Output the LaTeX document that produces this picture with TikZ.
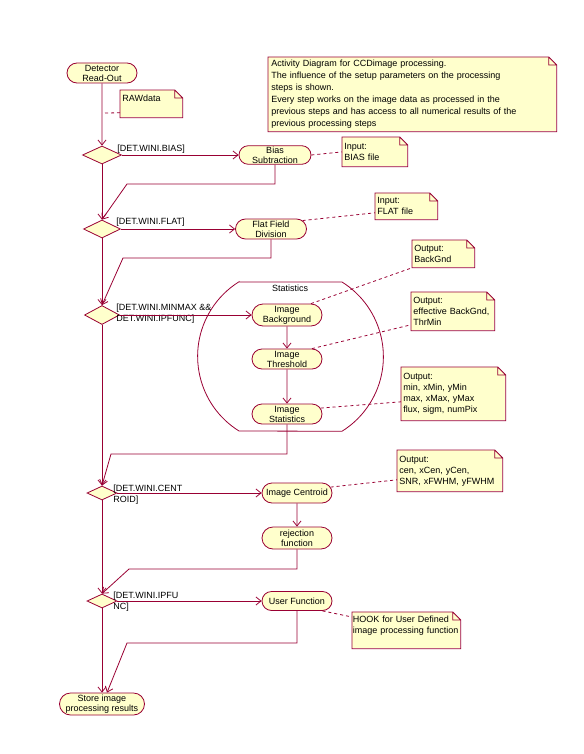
\documentclass[tikz,border=0pt]{standalone}
\usepackage{fontspec}
\setmainfont{Liberation Sans}
\usetikzlibrary{arrows.meta, shapes.geometric, shapes.misc}
\definecolor{umlline}{HTML}{990033}
\definecolor{umlfill}{HTML}{FFFFCC}
\newcommand{\dogear}[1]{%
  \fill[white] ([xshift=-8pt]#1.north east) -- (#1.north east) -- ([yshift=-8pt]#1.north east) -- cycle;
  \draw[umlline] (#1.north west) -- ([xshift=-8pt]#1.north east) -- ([yshift=-8pt]#1.north east)
    -- (#1.south east) -- (#1.south west) -- cycle
    ([xshift=-8pt]#1.north east) |- ([yshift=-8pt]#1.north east);}

\begin{document}
\begin{tikzpicture}[x=1pt, y=-1pt, line width=0.8pt,
font=\fontsize{9}{11}\selectfont,
activity/.style={rounded rectangle, draw=umlline, fill=umlfill, minimum width=72pt, minimum height=20pt, inner sep=1pt, align=center, font=\fontsize{9}{10}\selectfont},
branch/.style={diamond, draw=umlline, fill=umlfill, inner sep=0pt, minimum width=37pt, minimum height=18pt},
note/.style={rectangle, fill=umlfill, anchor=north west, inner xsep=2pt, inner ysep=2pt, align=left},
guard/.style={anchor=north west, inner sep=0pt, align=left},
flow/.style={umlline, -{Straight Barb[length=5pt, width=8pt]}},
link/.style={umlline, dash pattern=on 3pt off 3pt}
]
\useasboundingbox (0,0) rectangle (583,754);

% statistics partition
\draw[umlline] (239,282) -- (342,282) arc[start angle=-58, end angle=58, radius=88]
  -- (239,431) arc[start angle=122, end angle=238, radius=88] -- cycle;
\node (statlabel) at (290,288) {Statistics};

% main flow
\node (readout) [activity] at (102,73) {Detector\\Read-Out};
\node (b1) [branch, minimum width=39pt] at (102,155) {};
\node (bias) [activity, minimum width=74pt, minimum height=18pt] at (275,155) {Bias\\Subtraction};
\node (b2) [branch] at (102,229) {};
\node (flat) [activity, minimum width=73pt] at (271,229) {Flat Field\\Division};
\node (b3) [branch, minimum width=35pt, minimum height=19pt] at (102,315) {};
\node (bkg) [activity, minimum height=22pt] at (287,315) {Image\\Background};
\node (thr) [activity] at (287,359) {Image\\Threshold};
\node (stat) [activity] at (287,414) {Image\\Statistics};
\node (b4) [branch, minimum width=30pt, minimum height=14pt] at (102,493) {};
\node (centroid) [activity] at (297,493) {Image Centroid};
\node (reject) [activity, minimum height=22pt] at (297,538) {rejection\\function};
\node (b5) [branch, minimum width=30pt, minimum height=14pt] at (102,601) {};
\node (userfn) [activity, minimum height=19pt] at (297,601) {User Function};
\node (store) [activity, minimum width=87pt, minimum height=22pt] at (102,704) {Store image\\processing results};

% guards
\node (g1) [guard] at (117,145) {[DET.WINI.BIAS]};
\node (g2) [guard] at (116,218) {[DET.WINI.FLAT]};
\node (g3) [guard] at (116,304) {[DET.WINI.MINMAX \&\&\\DET.WINI.IPFUNC]};
\node (g4) [guard] at (113,485) {[DET.WINI.CENT\\ROID]};
\node (g5) [guard] at (113,592) {[DET.WINI.IPFU\\NC]};

% notes
\node (title) [note, inner xsep=3pt, text width=282pt, minimum height=74pt, font=\fontsize{9}{12}\selectfont] at (268,57)
  {Activity Diagram for CCDimage processing.\\The influence of the setup parameters on the processing\\steps is shown.\\Every step works on the image data as processed in the\\previous steps and has access to all numerical results of the\\previous processing steps};
\node (rawnote) [note, text width=58pt, minimum height=27pt] at (120,90) {RAWdata\\~};
\node (biasnote) [note, text width=61pt, minimum height=29pt] at (342,137) {Input:\\BIAS file};
\node (flatnote) [note, text width=58pt, minimum height=26pt] at (375,193) {Input:\\FLAT file};
\node (bkgnote) [note, text width=58pt, minimum height=27pt] at (412,240) {Output:\\BackGnd};
\node (thrnote) [note, text width=79pt, minimum height=38pt] at (411,292) {Output:\\effective BackGnd,\\ThrMin};
\node (statnote) [note, text width=100pt, minimum height=53pt] at (401,367) {Output:\\min, xMin, yMin\\max, xMax, yMax\\flux, sigm, numPix};
\node (centnote) [note, text width=101pt, minimum height=41pt] at (397,450) {Output:\\cen, xCen, yCen,\\SNR, xFWHM, yFWHM};
\node (hooknote) [note, inner xsep=0.5pt, text width=107pt, minimum height=36pt] at (352,612) {HOOK for User Defined\\image processing function\\~};
\foreach \n in {title, rawnote, biasnote, flatnote, bkgnote, thrnote, statnote, centnote, hooknote}
  {\dogear{\n}}

% connectors
\coordinate (j1) at (127,184);
\coordinate (j2) at (123,258);
\coordinate (j3) at (111,454);
\coordinate (j4) at (129,569);
\coordinate (j5) at (127,643);
\coordinate (rawend) at (104,113);

\draw[flow] (readout) -- (b1);
\draw[flow] (b1) -- (bias);
\draw[flow] (b1) -- (b2);
\draw[flow] (bias) -- (bias |- j1) -- (j1) -- (b2.north);
\draw[flow] (b2) -- (flat);
\draw[flow] (b2) -- (b3);
\draw[flow] (flat) -- (flat |- j2) -- (j2) -- (b3.north);
\draw[flow] (b3) -- (bkg);
\draw[flow] (bkg) -- (thr);
\draw[flow] (thr) -- (stat);
\draw[flow] (b3) -- (b4);
\draw[flow] (stat) -- (stat |- j3) -- (j3) -- (b4.north);
\draw[flow] (b4) -- (centroid);
\draw[flow] (centroid) -- (reject);
\draw[flow] (b4) -- (b5);
\draw[flow] (reject) -- (reject |- j4) -- (j4) -- (b5.north);
\draw[flow] (b5) -- (userfn);
\draw[flow] (b5) -- (store);
\draw[flow] (userfn) -- (userfn |- j5) -- (j5) -- ([xshift=5pt]store.north);

\draw[link] ([yshift=5pt]rawnote.south west) -- (rawend);
\draw[link] (bias.east) -- (biasnote.west);
\draw[link] (flat.15) -- ([yshift=7pt]flatnote.south west);
\draw[link] (bkg.north east) -- (bkgnote.south west);
\draw[link] (thr.north east) -- ([yshift=6pt]thrnote.south west);
\draw[link] (stat.10) -- ([yshift=19pt]statnote.south west);
\draw[link] (centroid.10) -- ([yshift=12pt]centnote.south west);
\draw[link] (userfn.south east) -- ([yshift=-5pt]hooknote.north west);

\end{tikzpicture}
\end{document}
